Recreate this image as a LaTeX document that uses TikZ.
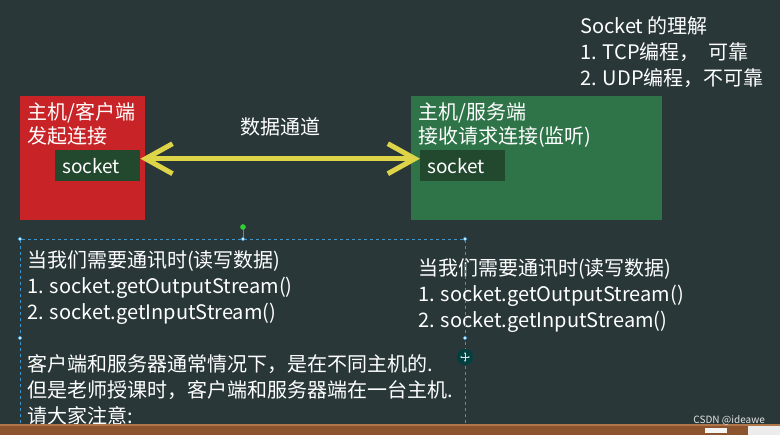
\documentclass[tikz,border=0pt]{standalone}
\usepackage{fontspec}
\newfontfamily\cjk{Noto Sans CJK SC}
\usetikzlibrary{arrows.meta, positioning}

\definecolor{board}{RGB}{41,55,57}
\definecolor{clientred}{RGB}{200,36,40}
\definecolor{servergreen}{RGB}{46,116,72}
\definecolor{sockgreen}{RGB}{34,72,46}
\definecolor{chalkyellow}{RGB}{222,212,72}
\definecolor{selblue}{RGB}{60,150,205}
\definecolor{wood}{RGB}{140,84,46}
\definecolor{woodlight}{RGB}{176,118,74}

\begin{document}
\begin{tikzpicture}[
    x=1pt, y=-1pt,
    txt/.style={text=white, font=\cjk\fontsize{20}{26}\selectfont, align=left, inner sep=0pt, anchor=north west},
    hosttxt/.style={txt, font=\cjk\fontsize{20}{24}\selectfont},
    hostbox/.style={rectangle, minimum width=125pt, minimum height=124pt, anchor=north west, inner sep=0pt},
    sockbox/.style={rectangle, fill=sockgreen, text=white, font=\cjk\fontsize{19}{20}\selectfont, minimum width=85pt, minimum height=31pt, text width=71pt, align=left, inner xsep=7pt, inner ysep=0pt, anchor=north west},
    arrow/.style={{Straight Barb[length=27pt, width=30pt]}-{Straight Barb[length=27pt, width=30pt]}, line width=5pt, draw=chalkyellow},
    handle/.style={circle, fill=white, draw=selblue, line width=0.6pt, inner sep=1.3pt}
]
\useasboundingbox (0,0) rectangle (780,435);

% Board
\fill[board] (0,0) rectangle (780,435);

% Client host
\node[hostbox, fill=clientred] (client) at (20,96) {};
\node[hosttxt, below right=6pt and 7pt of client.north west] (clienttxt) {主机/客户端\\发起连接};
\node[sockbox] (csock) at (55,150) {socket};

% Server host
\node[hostbox, fill=servergreen, minimum width=251pt] (server) at (411,96) {};
\node[hosttxt, below right=6pt and 7pt of server.north west] (servertxt) {主机/服务端\\接收请求连接(监听)};
\node[sockbox] (ssock) at (420,150) {socket};

% Data channel
\draw[arrow] ([yshift=7pt]csock.east) -- ([yshift=7pt]ssock.west);
\node[txt, anchor=center] (channel) at (280,127) {数据通道};

% Notes
\node[txt] (idea) at (580,16) {Socket 的理解\\1. TCP编程，\ \ 可靠\\2. UDP编程，不可靠};
\node[txt] (clientnote) at (27,250) {当我们需要通讯时(读写数据)\\1. socket.getOutputStream()\\2. socket.getInputStream()\\[26pt]客户端和服务器通常情况下，是在不同主机的.\\但是老师授课时，客户端和服务器端在一台主机.\\请大家注意:};
\node[txt] (servernote) at (418,258) {当我们需要通讯时(读写数据)\\1. socket.getOutputStream()\\2. socket.getInputStream()};

% Selection frame
\draw[selblue, dashed, line width=0.6pt] (20,435) -- (20,239) -- (465,239) -- (465,435);
\coordinate (rot) at (243,227);
\draw[selblue, line width=0.6pt] (rot) -- (243,239);
\node[circle, fill=green!60!gray, inner sep=2pt] at (rot) {};
\foreach \p in {(20,239),(243,239),(465,239),(20,338),(465,338)}
    \node[handle] at \p {};
\node[circle, fill=teal!50!black, minimum size=16pt, inner sep=0pt] (move) at (465,357) {};
\draw[white!80!gray, line width=0.6pt, -{Stealth[length=2pt]}] (move.center) -- ++(5,0);
\draw[white!80!gray, line width=0.6pt, -{Stealth[length=2pt]}] (move.center) -- ++(-5,0);
\draw[white!80!gray, line width=0.6pt, -{Stealth[length=2pt]}] (move.center) -- ++(0,5);
\draw[white!80!gray, line width=0.6pt, -{Stealth[length=2pt]}] (move.center) -- ++(0,-5);

% Chalk ledge
\fill[wood] (0,424) rectangle (780,435);
\fill[woodlight] (0,424) rectangle (780,426);
\fill[white!92!gray] (705,428) rectangle (727,433);
\fill[white!85!gray] (748,426) rectangle (780,435);
\node[font=\cjk\fontsize{10}{10}\selectfont, text=white!80!gray, anchor=east, inner sep=0pt] (mark) at (765,420) {CSDN @ideawe};

\end{tikzpicture}
\end{document}
